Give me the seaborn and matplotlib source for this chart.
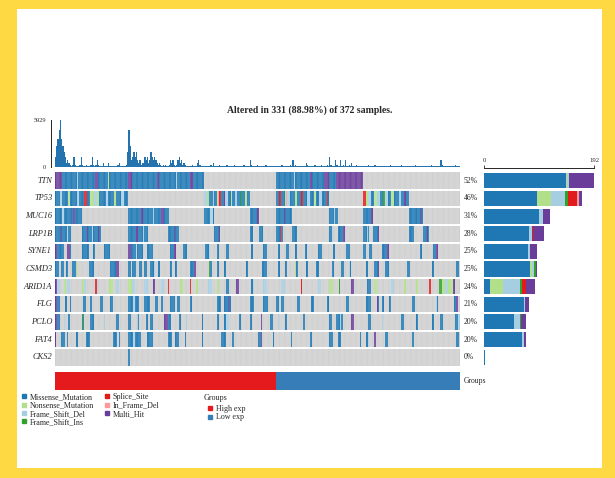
import re
import numpy as np
import matplotlib
matplotlib.use('Agg')
import matplotlib.pyplot as plt
from matplotlib.colors import ListedColormap
from matplotlib.lines import Line2D
from matplotlib.patches import Rectangle
import seaborn as sns

# ---- data ----
n_samples = 331          # altered samples shown in the matrix
n_total = 372
n_high = 181             # High exp group (left, red)
n_low = 150              # Low exp group (right, blue)

genes = ['TTN', 'TP53', 'MUC16', 'LRP1B', 'SYNE1', 'CSMD3',
         'ARID1A', 'FLG', 'PCLO', 'FAT4', 'CKS2']

vc_names = ['Missense_Mutation', 'Nonsense_Mutation', 'Frame_Shift_Del',
            'Frame_Shift_Ins', 'Splice_Site', 'In_Frame_Del', 'Multi_Hit']
vc_colors = ['#1F78B4', '#B2DF8A', '#A6CEE3', '#33A02C',
             '#E31A1C', '#FB9A99', '#6A3D9A']
bg_color = '#CFCFCF'

# matrix rows: "start:codes" (M missense, N nonsense, D fs del, I fs ins,
# S splice, F in-frame del, H multi hit), a number repeats the code
row_ttn = "0:H6M12DM14H2M8NM16H3M20H2M14DM10H3M9 181:M14DM12H2M10H4M6H22"
row_tp53 = ("0:M4D2M5NM6D2M4S2M3N3D2N2M6DM5N2M4D2M4 "
            "122:D2N2M3DM2NFS2M2HD2M3NM2D2M3IM2N2M2 "
            "181:M2S2M3NFD2M4N2M3S2M3D2M4NM3D2M4SM "
            "252:S2N2D2M3N2D3M2I2D2M3N2M4D2M2H2M2")
row_muc16 = ("0:M6DM8HM6 60:M10H2M8DM6H2M4 122:M5D2M 159:M6H2 "
             "181:M6HM6 224:M4DM2 252:M6H2 289:M9HM2")
row_lrp1b = ("0:M5HM4DM2 22:M4HM3DM4HM2 60:M6H2M4DM3 92:M5HM3 130:M4H "
             "159:M3 167:M3 181:M3SM 194:M4 224:M2D 231:M4H2 252:M3DM "
             "260:M4H 289:M4 301:M3HM")
row_syne1 = ("0:H2M5 10:H2M 22:M6 31:M2 40:M5 60:H2M4 67:M5 75:M5 94:M3H2 "
             "105:M3 123:M3D 132:M2 140:M2 160:M2 170:M3 182:M2 189:M2 "
             "196:M2 204:M2 215:M3 227:M2 238:M3 252:M2 257:M2 267:M4H2 "
             "298:M2 309:M2H2")
row_csmd3 = ("0:M3 5:M2 9:M2 14:M3N 28:M4 45:M5H2 60:M2 63:M3 69:M2 73:M2 "
             "78:M3D 84:M2 94:M2 98:M2 110:M4H 126:IM 132:M2 138:M2 156:M2 "
             "169:M4 182:M2 188:M2 196:NM2 205:M2 213:M3 226:M2 234:M2 "
             "240:DM 254:M2 261:M3H 270:M3 288:M2 308:M2 328:M2")
row_arid1a = ("0:H2D2 7:N2 10:D2 22:N2D 33:SD 44:N3 50:D2 60:N3D2 73:D3 "
              "80:H2 87:D2 92:S 102:N3 110:S 115:N2 125:D3 132:N2 140:M2 "
              "148:H2 160:M2D 170:D3 185:D3 201:S 215:D2 224:N3 232:I "
              "242:H2 255:M3 261:N2 275:D2 285:N2 295:N2 306:S "
              "314:I2N3D2N4H2")
row_flg = ("0:H2M2 8:M2 12:M 23:M2 29:M 37:M2 45:M2 60:M4DM4 73:M5 82:M2 "
           "87:M 94:M4 100:M2 110:M2 132:M4 138:M3HM2 159:M4 170:M4 181:M2 "
           "185:M2 198:M2 209:M3 222:M2 238:M2 254:M4 263:HM 267:M2 273:M2 "
           "292:M2 311:DM 326:M2H")
row_pclo = ("0:H2M2 7:D 11:M 22:IM 29:M3 40:D 50:M2 60:M2 67:DM 74:M2 78:M2 "
            "89:H3M3 101:M2 107:D 120:M 132:M2 138:M2D2 150:M2 159:M2 168:H "
            "176:M2 182:D 188:M2 203:M 224:M2 230:M3DM 242:H2 256:M2 267:D "
            "283:M2 295:M2 308:M2 315:M2 327:M2D2")
row_fat4 = ("0:H 5:M3 10:M 17:M2 25:M4 47:M4 52:M 60:M4DM5 75:M5 92:M4 "
            "98:M3 106:M 120:M 136:M4 145:M 166:M2H 178:M 193:M 208:M2 "
            "224:M3 231:M3 249:M 254:M2D 261:H 270:M2 292:M 328:M2")
row_cks2 = "60:M"

gene_rows = [row_ttn, row_tp53, row_muc16, row_lrp1b, row_syne1, row_csmd3,
             row_arid1a, row_flg, row_pclo, row_fat4, row_cks2]

# right bar plot counts per variant class
cnt_missense = [143, 92, 96, 79, 76, 80, 10, 69, 52, 67, 1]
cnt_nonsense = [2, 25, 0, 0, 0, 4, 23, 0, 0, 0, 0]
cnt_fs_del = [4, 25, 7, 5, 4, 4, 30, 3, 10, 2, 0]
cnt_fs_ins = [0, 4, 0, 0, 0, 2, 4, 0, 2, 0, 0]
cnt_splice = [0, 16, 0, 2, 0, 0, 6, 0, 0, 0, 0]
cnt_inframe_del = [0, 3, 0, 0, 0, 0, 0, 0, 0, 0, 0]
cnt_multi_hit = [43, 6, 12, 18, 13, 3, 16, 6, 10, 5, 0]
gene_altered = [192, 171, 115, 104, 93, 93, 89, 78, 74, 74, 1]

# top bar plot: mutation load level per sample
tmb_scale = {'0': 60, '1': 140, '2': 300, '3': 550, '4': 900, '5': 1300,
             '6': 1900, '7': 2600, '8': 3500, '9': 4700, 'X': 5929}
tmb_levels = ("5789X87653" "4321252111" "2521121112" "5212421113"
              "1113111111" "1231111126" "9745656434" "2335453465"
              "4543232121" "2112434212" "4534232111" "1121113421"
              "1111111213" "1111211111" "2111112111" "1111211114"
              "2111121111" "1121111111" "1111121111" "1121412111"
              "1111132111" "1121111211" "1121521114" "2114121411"
              "2131112111" "1111112111" "1211111111" "1111211111"
              "1112111111" "1111211111" "1111111211" "1111142111"
              "1111111211" "1")
tmb_max = 5929

codes = {'M': 1, 'N': 2, 'D': 3, 'I': 4, 'S': 5, 'F': 6, 'H': 7}


def parse_row(spec):
    row = np.zeros(n_samples, dtype=int)
    for tok in spec.split():
        start, seq = tok.split(':')
        pos = int(start)
        for c, k in re.findall(r'([A-Z])(\d*)', seq):
            k = int(k) if k else 1
            row[pos:pos + k] = codes[c]
            pos += k
    return row


mat = np.vstack([parse_row(s) for s in gene_rows])
tmb = np.array([tmb_scale[c] for c in tmb_levels])
groups = np.repeat([0, 1], [n_high, n_low])
counts = np.array([cnt_missense, cnt_nonsense, cnt_fs_del, cnt_fs_ins,
                   cnt_splice, cnt_inframe_del, cnt_multi_hit])

sns.set_style('white')
plt.rcParams['font.family'] = ['Liberation Serif', 'DejaVu Serif']

W, H = 615, 478
fig = plt.figure(figsize=(6.15, 4.78), dpi=100, facecolor='#FFD944')
fig.patches.append(Rectangle((17 / W, 10 / H), 585 / W, 459 / H,
                             transform=fig.transFigure, facecolor='white',
                             edgecolor='none', zorder=-10))

ax_m = fig.add_axes([55 / W, 1 - 366 / H, 405 / W, 194 / H])
ax_t = fig.add_axes([55 / W, 1 - 167 / H, 405 / W, 47 / H])
ax_g = fig.add_axes([55 / W, 1 - 390 / H, 405 / W, 18 / H])
ax_r = fig.add_axes([484 / W, 1 - 366 / H, 110 / W, 194 / H])
for a in (ax_m, ax_t, ax_g, ax_r):
    a.set_facecolor('none')

# oncoplot matrix
sns.heatmap(mat, ax=ax_m, cmap=ListedColormap([bg_color] + vc_colors),
            vmin=-0.5, vmax=7.5, cbar=False, xticklabels=False,
            yticklabels=genes, linewidths=0)
ax_m.vlines(np.arange(1, n_samples), 0, len(genes), color='white',
            lw=0.25, alpha=0.4, snap=False)
ax_m.hlines(np.arange(1, len(genes)), 0, n_samples, color='white', lw=1.4)
ax_m.set_yticklabels(genes, rotation=0, fontsize=6, fontstyle='italic')
ax_m.tick_params(length=0, pad=2)
for i, g in enumerate(gene_altered):
    ax_m.text(n_samples + 3, i + 0.5, f'{round(g / n_total * 100)}%',
              va='center', ha='left', fontsize=5.5)

# top mutation load bars
sns.barplot(x=np.arange(n_samples), y=tmb, ax=ax_t, color='#2472AE',
            width=1.0, saturation=1, linewidth=0)
ax_t.set_xlim(-0.5, n_samples - 0.5)
ax_t.set_ylim(0, tmb_max)
ax_t.set_xticks([])
ax_t.set_yticks([0, tmb_max])
ax_t.set_yticklabels(['0', str(tmb_max)])
ax_t.set_xlabel('')
ax_t.set_ylabel('')
ax_t.tick_params(axis='y', labelsize=4.5, length=2.5, width=0.6, pad=1)
for s in ['top', 'right', 'bottom']:
    ax_t.spines[s].set_visible(False)
ax_t.spines['left'].set_position(('outward', 3))
ax_t.spines['left'].set_linewidth(0.7)

# groups bar
sns.heatmap(groups[None, :], ax=ax_g,
            cmap=ListedColormap(['#E41A1C', '#377EB8']),
            cbar=False, xticklabels=False, yticklabels=False)
ax_g.text(n_samples + 3, 0.5, 'Groups', va='center', ha='left', fontsize=5.5)

# right stacked bars
cum = np.cumsum(counts, axis=0)
for k in reversed(range(len(vc_names))):
    sns.barplot(x=cum[k], y=genes, orient='h', ax=ax_r, color=vc_colors[k],
                width=0.86, saturation=1, linewidth=0)
ax_r.set_ylim(len(genes) - 0.5, -0.5)
ax_r.set_xlim(0, max(gene_altered))
ax_r.set_yticks([])
ax_r.set_xlabel('')
ax_r.set_ylabel('')
ax_r.xaxis.set_ticks_position('top')
ax_r.set_xticks([0, max(gene_altered)])
ax_r.tick_params(axis='x', labelsize=4.8, length=2.5, width=0.6, pad=1)
for s in ['left', 'right', 'bottom']:
    ax_r.spines[s].set_visible(False)
ax_r.spines['top'].set_position(('outward', 3))
ax_r.spines['top'].set_linewidth(0.7)

# title
fig.text(310 / W, 1 - 110 / H,
         f'Altered in {n_samples} ({n_samples / n_total * 100:.2f}%) '
         f'of {n_total} samples.',
         ha='center', va='center', fontsize=7, fontweight='bold')

# legends
vc_handles = [Line2D([], [], marker='s', ls='', color=c, markersize=3)
              for c in vc_colors]
fig.legend(vc_handles, vc_names, loc='upper left',
           bbox_to_anchor=(21 / W, 1 - 393 / H), ncol=2, frameon=False,
           fontsize=5.8, handlelength=0.8, handletextpad=0.3,
           columnspacing=1.2, labelspacing=0.05, borderpad=0,
           borderaxespad=0)
fig.text(204 / W, 1 - 398 / H, 'Groups', fontsize=5.8, va='center')
grp_handles = [Line2D([], [], marker='s', ls='', color=c, markersize=3)
               for c in ['#E41A1C', '#377EB8']]
fig.legend(grp_handles, ['High exp', 'Low exp'], loc='upper left',
           bbox_to_anchor=(207 / W, 1 - 405 / H), frameon=False,
           fontsize=5.8, handlelength=0.8, handletextpad=0.3,
           labelspacing=0.05, borderpad=0, borderaxespad=0)

fig.savefig('out.png', dpi=100)
